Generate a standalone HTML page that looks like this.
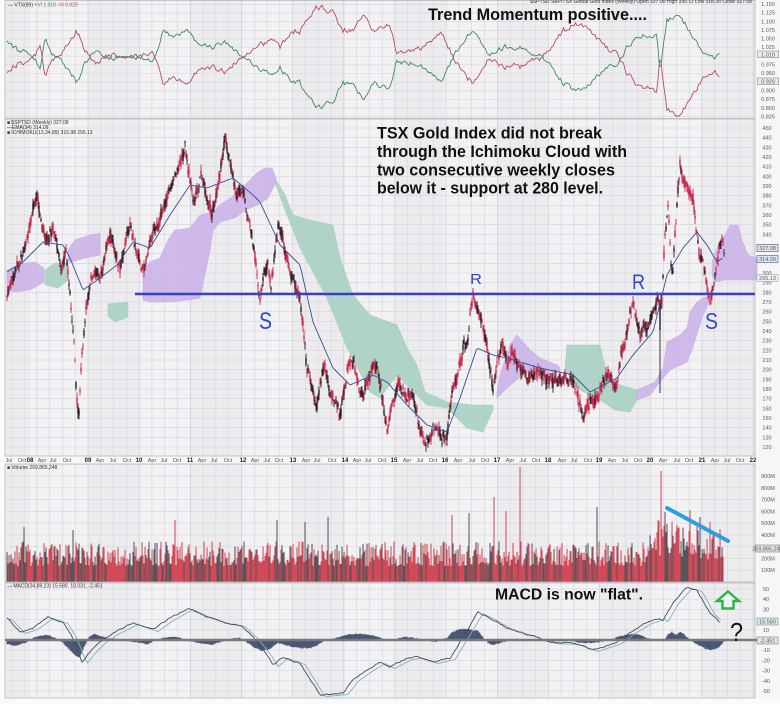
<!DOCTYPE html>
<html><head><meta charset="utf-8">
<style>
html,body{margin:0;padding:0;background:#fff;}
svg{display:block;}
text{font-family:"Liberation Sans",Arial,sans-serif;}
.ax{font-size:5.5px;fill:#5a5a5a;text-anchor:middle;}
.dt{font-size:5.5px;fill:#555;text-anchor:middle;}
.yr{font-size:6px;fill:#222;font-weight:bold;text-anchor:middle;}
.lg{font-size:5px;fill:#333;}
.ann{font-weight:bold;fill:#111;}
.hw{fill:#3346c8;}
</style></head><body>
<svg id="c" width="780" height="704" viewBox="0 0 780 704" xmlns="http://www.w3.org/2000/svg">
<rect width="780" height="704" fill="#fafafa"/>
<!-- panel backgrounds -->
<rect x="5" y="0" width="750" height="118" fill="#ececef"/>
<rect x="5" y="119" width="750" height="337" fill="#ececef"/>
<rect x="5" y="464" width="750" height="118" fill="#ececef"/>
<rect x="5" y="583" width="750" height="115" fill="#ececef"/>
<rect x="755" y="0" width="25" height="700" fill="#f6f6f6"/>
<rect x="5" y="456" width="775" height="8" fill="#f7f7f7"/>
<g id="bands"></g>
<g id="grid"></g>
<g id="clouds"></g>
<g id="candles"></g>
<g id="ema"></g>
<g id="vtx"></g>
<g id="vol"></g>
<g id="macd"></g>
<!-- panel borders -->
<g fill="none" stroke="#b8b8bc" stroke-width="0.8">
<rect x="5" y="0.5" width="750" height="118"/>
<rect x="5" y="119" width="750" height="337"/>
<rect x="5" y="464" width="750" height="118"/>
<rect x="5" y="583" width="750" height="115"/>
</g>
<!-- support line -->
<line x1="135" y1="294" x2="755" y2="294" stroke="#3a40c4" stroke-width="2.6"/>
<!-- volume trend line -->
<line x1="667" y1="508" x2="728" y2="541" stroke="#2c9fdc" stroke-width="4" stroke-linecap="round"/>
<!-- zero line macd -->
<line x1="5" y1="640" x2="760" y2="640" stroke="#7a7a7c" stroke-width="2.6"/>

<!-- handwritten letters -->
<text class="hw" x="259" y="329" font-size="24" textLength="13" lengthAdjust="spacingAndGlyphs">S</text>
<text class="hw" x="470" y="284" font-size="15" textLength="12" lengthAdjust="spacingAndGlyphs">R</text>
<text class="hw" x="632" y="289" font-size="21" textLength="13" lengthAdjust="spacingAndGlyphs">R</text>
<text class="hw" x="705" y="329" font-size="23" textLength="13" lengthAdjust="spacingAndGlyphs">S</text>

<!-- annotations -->
<text class="ann" x="428" y="20" font-size="16.5" textLength="219" lengthAdjust="spacingAndGlyphs">Trend Momentum positive....</text>
<text class="ann" x="377" y="138.5" font-size="16.5" textLength="225" lengthAdjust="spacingAndGlyphs">TSX Gold Index did not break</text>
<text class="ann" x="377" y="157" font-size="16.5" textLength="250" lengthAdjust="spacingAndGlyphs">through the Ichimoku Cloud with</text>
<text class="ann" x="377" y="175.5" font-size="16.5" textLength="238" lengthAdjust="spacingAndGlyphs">two consecutive weekly closes</text>
<text class="ann" x="377" y="193.5" font-size="16.5" textLength="226" lengthAdjust="spacingAndGlyphs">below it - support at 280 level.</text>
<text class="ann" x="495" y="599.5" font-size="16" textLength="148" lengthAdjust="spacingAndGlyphs">MACD is now &quot;flat&quot;.</text>

<!-- green arrow and question mark -->
<polygon points="728,591.5 739,601 733.5,601 733.5,608.5 722.5,608.5 722.5,601 717,601" fill="#eef3ee" stroke="#2fb34a" stroke-width="2.4" stroke-linejoin="miter"/>
<text x="730" y="641" font-size="26" fill="#111" textLength="13" lengthAdjust="spacingAndGlyphs">?</text>

<!-- legends -->
<text class="lg" x="530" y="3" font-size="4.2" fill="#888" textLength="222" lengthAdjust="spacingAndGlyphs">$SPTSD S&amp;P/TSX Global Gold Index (Weekly) Open 327.00 High 330.11 Low 318.26 Close 327.08</text>
<text class="lg" x="8" y="6.5"><tspan fill="#333">— VTX(89)</tspan><tspan fill="#3f8a5e"> +VI 1.010</tspan><tspan fill="#b04a68"> -VI 0.929</tspan></text>
<text class="lg" x="7" y="124">■ $SPTSD (Weekly) 327.08</text>
<text class="lg" x="7" y="129" fill="#3b4f8f">—EMA(34) 314.09</text>
<text class="lg" x="7" y="134" fill="#8a8ad0">■ ICHIMOKU(13,34,89) 315.98 295.13</text>
<text class="lg" x="7" y="469">■ Volume 269,865,248</text>
<text class="lg" x="7" y="587.5">— MACD(34,89,23) 15.580, 18.031, -2.451</text>

<!-- top axis -->
<g class="ax">
<text x="768" y="6">1.150</text><text x="768" y="14.6">1.125</text><text x="768" y="23.3">1.100</text><text x="768" y="32">1.075</text><text x="768" y="40.6">1.050</text><text x="768" y="49.2">1.025</text><text x="768" y="66.5">0.975</text><text x="768" y="75.2">0.950</text><text x="768" y="92.5">0.900</text><text x="768" y="101.1">0.875</text><text x="768" y="109.8">0.850</text><text x="768" y="118.4">0.825</text>
</g>
<rect x="757.5" y="51" width="21" height="6.5" fill="#e6ecf2" stroke="#777" stroke-width="0.5"/>
<text class="ax" x="768" y="56.3" fill="#333">1.010</text>
<rect x="757.5" y="78" width="21" height="6.5" fill="#efe6ea" stroke="#777" stroke-width="0.5"/>
<text class="ax" x="768" y="83.3" fill="#333">0.929</text>

<!-- main axis -->
<g class="ax">
<text x="767" y="130">450</text><text x="767" y="139.7">440</text><text x="767" y="149.3">430</text><text x="767" y="159">420</text><text x="767" y="168.7">410</text><text x="767" y="178.3">400</text><text x="767" y="188">390</text><text x="767" y="197.7">380</text><text x="767" y="207.3">370</text><text x="767" y="217">360</text><text x="767" y="226.7">350</text><text x="767" y="236.3">340</text><text x="767" y="275">300</text><text x="767" y="284.7">290</text><text x="767" y="294.3">280</text><text x="767" y="304">270</text><text x="767" y="313.7">260</text><text x="767" y="323.3">250</text><text x="767" y="333">240</text><text x="767" y="342.7">230</text><text x="767" y="352.3">220</text><text x="767" y="362">210</text><text x="767" y="371.7">200</text><text x="767" y="381.3">190</text><text x="767" y="391">180</text><text x="767" y="400.7">170</text><text x="767" y="410.3">160</text><text x="767" y="420">150</text><text x="767" y="429.7">140</text><text x="767" y="439.3">130</text><text x="767" y="449">120</text>
</g>
<rect x="757" y="244.5" width="21" height="7" fill="#e4e4e8" stroke="#555" stroke-width="0.6"/>
<text class="ax" x="767.5" y="250" fill="#222">327.08</text>
<rect x="757" y="255.5" width="21" height="7" fill="#dde4f4" stroke="#4a5a9a" stroke-width="0.6"/>
<text class="ax" x="767.5" y="261" fill="#223">314.09</text>
<rect x="757" y="274.5" width="21" height="7" fill="#eef2f4" stroke="#8a9aa0" stroke-width="0.5"/>
<text class="ax" x="767.5" y="280" fill="#4a8a8a">295.13</text>

<!-- date axis -->
<g>
<text class="dt" x="9" y="462">Jul</text><text class="dt" x="22" y="462">Oct</text><text class="yr" x="30" y="462">08</text><text class="dt" x="42" y="462">Apr</text><text class="dt" x="53" y="462">Jul</text><text class="dt" x="67" y="462">Oct</text>
<text class="yr" x="88" y="462">09</text><text class="dt" x="100" y="462">Apr</text><text class="dt" x="113" y="462">Jul</text><text class="dt" x="127" y="462">Oct</text>
<text class="yr" x="139" y="462">10</text><text class="dt" x="152" y="462">Apr</text><text class="dt" x="164" y="462">Jul</text><text class="dt" x="177" y="462">Oct</text>
<text class="yr" x="190" y="462">11</text><text class="dt" x="202" y="462">Apr</text><text class="dt" x="214" y="462">Jul</text><text class="dt" x="228" y="462">Oct</text>
<text class="yr" x="243" y="462">12</text><text class="dt" x="255" y="462">Apr</text><text class="dt" x="267" y="462">Jul</text><text class="dt" x="279" y="462">Oct</text>
<text class="yr" x="293" y="462">13</text><text class="dt" x="306" y="462">Apr</text><text class="dt" x="317" y="462">Jul</text><text class="dt" x="332" y="462">Oct</text>
<text class="yr" x="345" y="462">14</text><text class="dt" x="357" y="462">Apr</text><text class="dt" x="368" y="462">Jul</text><text class="dt" x="382" y="462">Oct</text>
<text class="yr" x="394" y="462">15</text><text class="dt" x="407" y="462">Apr</text><text class="dt" x="420" y="462">Jul</text><text class="dt" x="433" y="462">Oct</text>
<text class="yr" x="445" y="462">16</text><text class="dt" x="458" y="462">Apr</text><text class="dt" x="472" y="462">Jul</text><text class="dt" x="485" y="462">Oct</text>
<text class="yr" x="497" y="462">17</text><text class="dt" x="510" y="462">Apr</text><text class="dt" x="523" y="462">Jul</text><text class="dt" x="536" y="462">Oct</text>
<text class="yr" x="548" y="462">18</text><text class="dt" x="562" y="462">Apr</text><text class="dt" x="574" y="462">Jul</text><text class="dt" x="588" y="462">Oct</text>
<text class="yr" x="599" y="462">19</text><text class="dt" x="612" y="462">Apr</text><text class="dt" x="625" y="462">Jul</text><text class="dt" x="638" y="462">Oct</text>
<text class="yr" x="650" y="462">20</text><text class="dt" x="663" y="462">Apr</text><text class="dt" x="677" y="462">Jul</text><text class="dt" x="689" y="462">Oct</text>
<text class="yr" x="702" y="462">21</text><text class="dt" x="715" y="462">Apr</text><text class="dt" x="727" y="462">Jul</text><text class="dt" x="740" y="462">Oct</text>
<text class="yr" x="753" y="462">22</text>
</g>

<!-- volume axis -->
<g class="ax">
<text x="768" y="478">900M</text><text x="768" y="489.8">800M</text><text x="768" y="501.5">700M</text><text x="768" y="513.3">600M</text><text x="768" y="525">500M</text><text x="768" y="536.8">400M</text><text x="768" y="560.3">200M</text><text x="768" y="572">100M</text>
</g>
<rect x="755.5" y="545" width="24" height="7" fill="#e4e4e8" stroke="#666" stroke-width="0.5"/>
<text class="ax" x="767.5" y="550.5" fill="#222" font-size="4.8">269,865,248</text>

<!-- macd axis -->
<g class="ax">
<text x="766" y="591">50</text><text x="766" y="601.2">40</text><text x="766" y="611.4">30</text><text x="766" y="631.8">10</text><text x="766" y="652.2">-10</text><text x="766" y="662.4">-20</text><text x="766" y="672.6">-30</text><text x="766" y="682.8">-40</text><text x="766" y="693">-50</text>
</g>
<rect x="757" y="618" width="21" height="7" fill="#dde8ec" stroke="#5a7a8a" stroke-width="0.5"/>
<text class="ax" x="767.5" y="623.5" fill="#335">15.580</text>
<rect x="757" y="637" width="21" height="7" fill="#e4e4e8" stroke="#666" stroke-width="0.5"/>
<text class="ax" x="767.5" y="642.5" fill="#222">-2.451</text>
</svg>
<script>
(function(){
var seed=987654;
function R(){seed|=0;seed=seed+0x6D2B79F5|0;var t=Math.imul(seed^seed>>>15,1|seed);t=t+Math.imul(t^t>>>7,61|t)^t;return((t^t>>>14)>>>0)/4294967296;}
function lerp(p,x){if(x<=p[0][0])return p[0][1];for(var i=1;i<p.length;i++){if(x<=p[i][0]){var a=p[i-1],b=p[i];return a[1]+(b[1]-a[1])*(x-a[0])/(b[0]-a[0]);}}return p[p.length-1][1];}
function $(id){return document.getElementById(id);}
function f(v){return v.toFixed(1);}

/* bands */
var yrs=[30,88,139,190,243,293,345,394,445,497,548,599,650,702,753];
var b='';
for(var i=0;i<yrs.length-1;i++){ if(i%2==0){ var w=yrs[i+1]-yrs[i];
  b+='<rect x="'+yrs[i]+'" y="0" width="'+w+'" height="118" fill="#f2f2f4"/>';
  b+='<rect x="'+yrs[i]+'" y="119" width="'+w+'" height="337" fill="#f2f2f4"/>';
  b+='<rect x="'+yrs[i]+'" y="464" width="'+w+'" height="118" fill="#f2f2f4"/>';
  b+='<rect x="'+yrs[i]+'" y="583" width="'+w+'" height="115" fill="#f2f2f4"/>';}}
$('bands').innerHTML=b;

/* grid */
var g='';var gc='#d4d4dc';
for(var x=88-12.79*6;x<756;x+=12.79){
  if(x<5)continue;
  var c=(Math.abs(((x-88)/51.16)-Math.round((x-88)/51.16))<0.05)?'#c8c8d2':gc;
  g+='<line x1="'+f(x)+'" y1="0" x2="'+f(x)+'" y2="118" stroke="'+c+'" stroke-width="0.6"/>';
  g+='<line x1="'+f(x)+'" y1="119" x2="'+f(x)+'" y2="456" stroke="'+c+'" stroke-width="0.6"/>';
  g+='<line x1="'+f(x)+'" y1="464" x2="'+f(x)+'" y2="582" stroke="'+c+'" stroke-width="0.6"/>';
  g+='<line x1="'+f(x)+'" y1="583" x2="'+f(x)+'" y2="698" stroke="'+c+'" stroke-width="0.6"/>';
}
for(var y=4.3;y<118;y+=8.65)g+='<line x1="5" y1="'+f(y)+'" x2="755" y2="'+f(y)+'" stroke="'+gc+'" stroke-width="0.6"/>';
for(var y=128;y<456;y+=9.667)g+='<line x1="5" y1="'+f(y)+'" x2="755" y2="'+f(y)+'" stroke="'+gc+'" stroke-width="0.6"/>';
for(var y=464.3;y<582;y+=11.75)g+='<line x1="5" y1="'+f(y)+'" x2="755" y2="'+f(y)+'" stroke="'+gc+'" stroke-width="0.6"/>';
for(var y=589;y<698;y+=10.2)g+='<line x1="5" y1="'+f(y)+'" x2="755" y2="'+f(y)+'" stroke="'+gc+'" stroke-width="0.6"/>';
$('grid').innerHTML=g;

/* clouds */
var P='#c9b0e8',T='#a6cfc2';
var clouds=[
 [P,[[7,270],[20,264],[35,262],[44,268],[44,282],[30,290],[15,292],[7,290]]],
 [T,[[45,270],[55,263],[68,263],[68,280],[58,288],[45,285]]],
 [P,[[68,250],[75,240],[90,235],[100,233],[100,255],[85,258],[72,262],[68,262]]],
 [T,[[108,304],[128,302],[128,317],[115,322],[108,316]]],
 [P,[[143,272],[150,262],[160,258],[168,240],[175,230],[190,228],[200,215],[213,212],[220,205],[235,195],[250,180],[258,172],[265,168],[272,168],[276,178],[276,182],[268,198],[258,205],[245,210],[235,218],[220,222],[213,230],[210,250],[205,275],[200,298],[190,300],[170,302],[150,302],[143,300]]],
 [T,[[276,180],[285,195],[293,215],[310,220],[333,225],[340,258],[353,295],[370,315],[397,325],[407,348],[417,365],[425,392],[447,402],[473,405],[493,405],[493,410],[483,432],[467,428],[447,408],[427,405],[407,385],[397,375],[380,398],[370,392],[347,348],[327,298],[300,248],[285,210],[276,185]]],
 [P,[[497,392],[500,375],[510,345],[517,335],[530,350],[540,358],[557,365],[560,368],[560,372],[540,372],[523,374],[505,390],[497,398]]],
 [T,[[565,368],[567,345],[600,345],[607,375],[620,385],[637,390],[637,400],[630,412],[615,410],[600,400],[580,390],[567,372]]],
 [P,[[637,390],[655,382],[663,368],[667,342],[680,335],[687,328],[690,312],[697,302],[703,298],[710,296],[710,300],[702,318],[692,350],[687,362],[670,370],[663,378],[650,395],[637,400]]],
 [P,[[712,262],[718,245],[725,235],[730,225],[738,225],[742,240],[748,255],[757,258],[757,280],[740,280],[725,280],[715,282],[712,275]]]
];
var cs='';
for(var i=0;i<clouds.length;i++){var pts=clouds[i][1].map(function(p){return p[0]+','+p[1];}).join(' ');
 cs+='<polygon points="'+pts+'" fill="'+clouds[i][0]+'" fill-opacity="0.85" stroke="'+clouds[i][0]+'" stroke-width="0.6"/>';}
$('clouds').innerHTML=cs;

/* price candles */
var PP=[[7,300],[13,280],[20,262],[27,240],[33,210],[37,195],[42,225],[47,240],[53,225],[58,250],[62,270],[66,255],[70,295],[74,340],[77,400],[79,412],[82,350],[86,310],[90,285],[95,270],[100,280],[105,255],[110,235],[115,250],[120,270],[125,245],[130,225],[135,245],[140,265],[145,270],[150,245],[155,230],[160,220],[165,205],[170,190],[175,180],[180,165],[185,150],[190,180],[193,200],[197,190],[202,175],[207,195],[212,215],[216,195],[220,170],[225,135],[228,155],[232,175],[236,195],[240,190],[245,200],[250,225],[255,255],[258,285],[260,300],[264,275],[268,262],[271,290],[275,255],[278,225],[282,240],[286,260],[290,275],[295,285],[300,300],[304,335],[307,368],[311,380],[315,400],[317,410],[320,385],[325,362],[330,390],[335,400],[340,415],[344,390],[348,370],[352,360],[356,375],[360,385],[364,390],[368,380],[373,365],[378,372],[383,400],[387,432],[391,410],[395,395],[398,380],[403,390],[407,400],[412,395],[417,410],[421,430],[425,445],[430,435],[434,425],[438,430],[442,440],[447,435],[450,410],[453,390],[457,375],[461,360],[464,345],[467,340],[470,315],[473,295],[476,305],[480,318],[484,330],[487,345],[490,370],[493,388],[497,365],[502,345],[507,360],[513,355],[518,365],[523,372],[530,375],[535,370],[540,372],[547,378],[553,382],[560,378],[567,380],[573,378],[578,395],[583,415],[588,405],[593,398],[598,395],[603,385],[607,375],[612,380],[617,388],[621,360],[625,340],[630,315],[633,302],[637,322],[640,332],[645,325],[650,322],[655,312],[658,300],[662,300],[665,232],[668,210],[671,260],[673,272],[675,232],[678,190],[680,165],[683,180],[687,188],[690,195],[693,202],[696,230],[699,252],[703,258],[706,280],[708,295],[710,305],[713,288],[716,265],[719,250],[722,238],[724,250]];
var cd='',nz=0;
for(var x=7;x<=724;x++){
 nz=nz*0.6+(R()-0.5)*6;
 var bs=lerp(PP,x)+nz;
 var o=bs+(R()-0.5)*10,c=bs+(R()-0.5)*10;
 var hi=Math.min(o,c)-R()*5-1,lo=Math.max(o,c)+R()*5+1;
 var col=R()<0.55?'#c8284a':'#2c1a20';
 if(x==660){hi=300;lo=393;col='#2c1a20';o=310;c=330;}
 cd+='<line x1="'+x+'" x2="'+x+'" y1="'+f(hi)+'" y2="'+f(lo)+'" stroke="'+col+'" stroke-width="0.9"/>';
 cd+='<rect x="'+(x-0.7)+'" y="'+f(Math.min(o,c))+'" width="1.4" height="'+f(Math.max(0.8,Math.abs(o-c)))+'" fill="'+col+'"/>';
}
$('candles').innerHTML=cd;

/* EMA */
var E=[[7,272],[23,262],[43,242],[63,245],[70,258],[83,290],[100,278],[117,265],[133,242],[150,248],[170,215],[190,185],[207,188],[233,178],[253,195],[260,202],[280,245],[300,265],[313,322],[333,368],[350,385],[373,375],[387,382],[407,405],[427,425],[447,432],[460,398],[477,348],[493,355],[507,358],[540,368],[573,375],[590,392],[617,378],[633,355],[653,332],[667,275],[683,248],[697,232],[707,245],[717,262],[723,258]];
var ed='';
for(var x=7;x<=723;x+=1.5){ed+=(ed?'L':'M')+f(x)+','+f(lerp(E,x));}
$('ema').innerHTML='<path d="'+ed+'" fill="none" stroke="#3b4f8f" stroke-width="0.9"/>';

/* VTX */
var G=[[7,43],[13,47],[20,52],[27,50],[33,57],[40,67],[45,38],[50,53],[60,57],[67,70],[77,83],[83,67],[93,53],[103,55],[113,58],[127,57],[140,58],[153,60],[163,30],[173,37],[187,33],[200,43],[213,47],[227,43],[240,53],[253,63],[267,73],[280,67],[290,80],[300,83],[310,100],[320,107],[333,100],[343,83],[353,83],[363,100],[373,83],[387,87],[390,90],[397,60],[410,63],[423,67],[440,83],[453,57],[473,27],[483,47],[490,57],[503,47],[520,47],[537,55],[550,63],[563,83],[573,90],[590,83],[607,67],[617,63],[627,47],[643,37],[657,37],[660,70],[667,20],[680,18],[690,30],[700,47],[710,58],[716,57],[720,53]];
var C=[[7,57],[600,57],[680,66],[720,65]];
var gd='',rd='',n1=0;
for(var x=7;x<=720;x+=1.5){
 n1=n1*0.5+(R()-0.5)*5;
 var gy=lerp(G,x)+n1;
 var ry=2*lerp(C,x)-gy+(R()-0.5)*2;
 gy=Math.max(2,Math.min(116,gy));ry=Math.max(2,Math.min(116,ry));
 gd+=(gd?'L':'M')+f(x)+','+f(gy);
 rd+=(rd?'L':'M')+f(x)+','+f(ry);
}
$('vtx').innerHTML='<path d="'+rd+'" fill="none" stroke="#b44a6c" stroke-width="0.9"/><path d="'+gd+'" fill="none" stroke="#3f8a5e" stroke-width="0.9"/>';

/* volume */
var sp={24:55,73:52,175:62,277:62,305:60,328:65,452:67,469:69,494:85,506:71,520:115,597:75,661:111,665:70,690:72,700:65,710:60};
var vs='';
for(var x=7;x<=723;x++){
 var env=x<650?29:(x<700?46:40);
 var h=env*(0.55+0.85*Math.pow(R(),1.3));
 if(sp[x])h=sp[x];
 var col=R()<0.64?'#d24a58':'#5a5458';
 vs+='<rect x="'+(x-0.5)+'" y="'+f(582-h)+'" width="1.05" height="'+f(h)+'" fill="'+col+'"/>';
}
$('vol').innerHTML=vs;

/* MACD */
var H=[[7,4],[15,6],[25,3],[33,-2],[40,-4],[48,-5],[55,-2],[62,2],[68,8],[75,15],[80,18],[85,5],[90,-4],[95,-6],[100,-4],[105,-2],[115,-1],[125,0],[135,2],[140,3],[148,4],[155,0],[163,-2],[170,-3],[178,-3],[185,0],[195,2],[205,4],[212,5],[220,2],[230,-1],[240,-2],[248,3],[255,8],[262,11],[270,9],[278,3],[285,5],[292,7],[300,8],[310,8],[318,5],[325,0],[335,-2],[345,-5],[355,-6],[365,-6],[375,-4],[382,-2],[388,1],[395,0],[400,-2],[405,-3],[415,-2],[425,0],[435,2],[440,0],[447,-2],[452,-8],[460,-11],[470,-11],[478,-9],[483,-3],[488,3],[493,5],[500,3],[510,0],[520,-1],[530,0],[540,-1],[550,1],[560,1],[570,0],[580,3],[590,3],[600,2],[610,0],[617,-3],[625,-5],[632,-6],[638,-6],[645,-3],[650,-1],[655,0],[660,0],[665,-1],[668,-6],[672,-8],[676,-5],[680,-8],[684,-6],[690,0],[695,3],[700,6],[706,9],[712,10],[718,8],[722,4],[725,0]];
var M=[[7,618],[20,632],[33,628],[48,617],[63,622],[72,637],[82,662],[90,652],[100,642],[113,633],[133,623],[153,630],[167,620],[188,608],[207,617],[227,623],[240,625],[253,637],[267,655],[273,665],[283,657],[300,663],[320,695],[343,693],[353,680],[367,670],[380,662],[390,667],[407,658],[417,657],[433,662],[450,658],[463,637],[478,612],[490,618],[507,628],[530,635],[550,642],[573,643],[593,650],[617,642],[630,632],[647,622],[660,618],[663,620],[673,603],[687,587],[697,590],[710,613],[720,623]];
var hs='';
for(var x=7;x<=725;x++){var v=lerp(H,x)+(R()-0.5)*1.2;
 hs+='<line x1="'+x+'" x2="'+x+'" y1="640" y2="'+f(640+v)+'" stroke="#4b5874" stroke-width="1"/>';}
var md='',td='',n2=0;
for(var x=7;x<=720;x+=1.5){n2=n2*0.6+(R()-0.5)*1.2;
 md+=(md?'L':'M')+f(x)+','+f(lerp(M,x)+n2);
 td+=(td?'L':'M')+f(x+1)+','+f(lerp(M,x-4)+1.5);}
hs+='<path d="'+td+'" fill="none" stroke="#7fb4b4" stroke-width="0.9"/>';
hs+='<path d="'+md+'" fill="none" stroke="#454c5c" stroke-width="0.9"/>';
$('macd').innerHTML=hs;
})();
</script>
</body></html>
